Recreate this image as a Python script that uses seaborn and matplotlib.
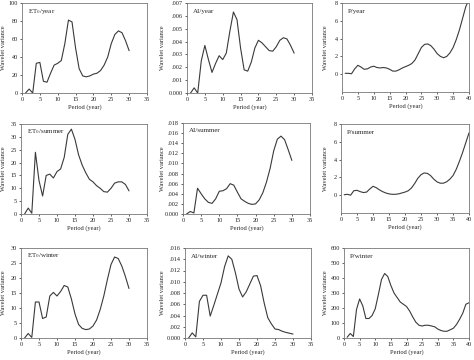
import numpy as np
import pandas as pd
import matplotlib
matplotlib.use("Agg")
import matplotlib.pyplot as plt
import seaborn as sns
from matplotlib.ticker import FuncFormatter


# =========================================================
# DATA
# =========================================================

period_30 = list(range(1, 31))
period_40 = list(range(1, 41))

et0_year = [0, 4.4, 0, 33, 34, 13, 12, 22, 31, 33, 36, 55, 81, 79, 50,
            27, 19, 18, 19, 21, 22, 25, 31, 40, 55, 65, 69, 67, 58, 47]

ai_year = [0, 0.4, 0, 2.5, 3.7, 2.6, 1.6, 2.3, 2.9, 2.6, 3.1, 4.8, 6.3, 5.7, 3.5,
           1.8, 1.7, 2.4, 3.5, 4.1, 3.9, 3.6, 3.3, 3.25, 3.6, 4.1, 4.3, 4.2, 3.7, 3.1]

p_year = [0.1, 0.1, 0.05, 0.6, 1.0, 0.8, 0.55, 0.6, 0.8, 0.9, 0.75, 0.7, 0.75, 0.7,
          0.55, 0.35, 0.35, 0.5, 0.7, 0.85, 1.0, 1.2, 1.6, 2.3, 3.0, 3.35, 3.4, 3.2,
          2.8, 2.3, 2.0, 1.85, 2.0, 2.4, 3.0, 3.9, 5.0, 6.3, 7.6, 8.4]

et0_summer = [0, 2.3, 0.3, 24, 13, 7, 15, 15.5, 14, 16.5, 17.5, 22, 31, 33, 29,
              23, 19, 16, 13.5, 12.5, 11, 10, 8.7, 8.5, 10, 12, 12.5, 12.5, 11.5, 9]

ai_summer = [0, 0.5, 0.2, 5.1, 4.0, 3.0, 2.3, 2.1, 3.0, 4.5, 4.6, 5.0, 6.0, 5.7, 4.3,
             3.0, 2.5, 2.1, 1.9, 2.0, 2.8, 4.2, 6.3, 9.0, 12.5, 14.8, 15.4, 14.7, 12.7, 10.6]

p_summer = [0.05, 0.1, 0.0, 0.5, 0.55, 0.4, 0.3, 0.35, 0.7, 1.0, 0.85, 0.6, 0.4, 0.25,
            0.15, 0.1, 0.1, 0.15, 0.25, 0.35, 0.5, 0.8, 1.3, 1.9, 2.3, 2.5, 2.45, 2.2,
            1.8, 1.5, 1.35, 1.35, 1.5, 1.8, 2.2, 2.9, 3.8, 4.8, 5.9, 7.0]

et0_winter = [0, 1.5, 0.2, 12, 12, 6.5, 7, 14, 15.2, 14, 15.5, 17.5, 17, 13, 8,
              4.5, 3.2, 2.8, 3, 4, 6, 9.5, 14, 19.5, 24.5, 27, 26.5, 24, 20.5, 16.5]

ai_winter = [0, 0.9, 0.2, 6.5, 7.6, 7.6, 3.9, 5.8, 7.8, 9.8, 12.7, 14.6, 14.0, 11.6, 8.7,
             7.3, 8.2, 9.6, 11.0, 11.1, 9.3, 6.2, 3.6, 2.5, 1.6, 1.5, 1.2, 1.0, 0.85, 0.7]

p_winter = [5, 30, 10, 190, 260, 215, 130, 130, 150, 195, 290, 390, 430, 410, 350,
            300, 270, 240, 225, 210, 180, 140, 105, 85, 80, 85, 85, 80, 75, 60,
            50, 45, 45, 55, 65, 90, 125, 165, 225, 235]

titles = ["ET$_0$/year", "AI/year", "P/year",
          "ET$_0$/summer", "AI/summer", "P/summer",
          "ET$_0$/winter", "AI/winter", "P/winter"]


# =========================================================
# PANEL SETTINGS
# =========================================================

panels = [
    (period_30, et0_year, 1, (0, 100), 20, "int", 35),
    (period_30, ai_year, 1e-3, (0, 0.007), 0.001, "ai", 35),
    (period_40, p_year, 1, (-2, 8), 2, "int", 40),
    (period_30, et0_summer, 1, (0, 35), 5, "int", 35),
    (period_30, ai_summer, 1e-3, (0, 0.018), 0.002, "ai", 35),
    (period_40, p_summer, 1, (-2, 8), 2, "int", 40),
    (period_30, et0_winter, 1, (0, 30), 5, "int", 35),
    (period_30, ai_winter, 1e-3, (0, 0.016), 0.002, "ai", 35),
    (period_40, p_winter, 1, (0, 600), 100, "int", 40),
]

# axes boxes in pixels: left, top, right, bottom
boxes = [
    (22, 3, 147, 93), (187, 3, 312, 93), (342, 3, 469, 92),
    (21, 124, 147, 214), (183, 123, 310, 214), (341, 124, 469, 213),
    (21, 248, 147, 338), (185, 248, 311, 338), (344, 248, 469, 338),
]

# centre of the y label, in pixels, per column
ylabel_x = [3, 162, 325]

W, H = 474, 360


def ai_fmt(v, pos):
    if abs(v) < 1e-9:
        return "0.000"
    return f"{v:.3f}".lstrip("0")


sns.set_style("ticks")
plt.rcParams["font.family"] = ["Liberation Serif", "DejaVu Serif"]
plt.rcParams["mathtext.fontset"] = "stix"

fig = plt.figure(figsize=(W / 100, H / 100), dpi=100)

for i, ((x, y, scale, ylim, ystep, fmt, xmax), (l, t, r, b), title) in enumerate(
        zip(panels, boxes, titles)):

    w_px = r - l
    h_px = b - t

    ax = fig.add_axes([l / W, 1 - b / H, w_px / W, h_px / H])

    df = pd.DataFrame({"period": x, "value": np.array(y) * scale})

    sns.lineplot(data=df, x="period", y="value", ax=ax,
                 color="#3a3a3a", linewidth=0.8)

    ax.set_xlim(0, xmax)
    ax.set_ylim(*ylim)
    ax.set_xticks(np.arange(0, xmax + 1, 5))

    start = 0 if ylim[0] >= 0 else ylim[0] + ystep
    ax.set_yticks(np.arange(start, ylim[1] + ystep / 2, ystep))

    if fmt == "ai":
        ax.yaxis.set_major_formatter(FuncFormatter(ai_fmt))
    else:
        ax.yaxis.set_major_formatter(FuncFormatter(lambda v, p: f"{v:g}"))

    ax.tick_params(labelsize=4.5, length=1.5, width=0.5, pad=1.5, colors="#222222")

    for s in ax.spines.values():
        s.set_linewidth(0.6)
        s.set_color("#777777")

    ax.set_xlabel("Period (year)", fontsize=4.6)
    ax.set_ylabel("Wavelet variance", fontsize=4.6)

    ax.xaxis.set_label_coords(0.5, -11.5 / h_px)
    ax.yaxis.set_label_coords((ylabel_x[i % 3] + 3 - l) / w_px, 0.5)

    ax.text(0.045, 1 - 8 / h_px, title, transform=ax.transAxes,
            fontsize=5, va="center", ha="left")

fig.savefig("out.png", dpi=100)
